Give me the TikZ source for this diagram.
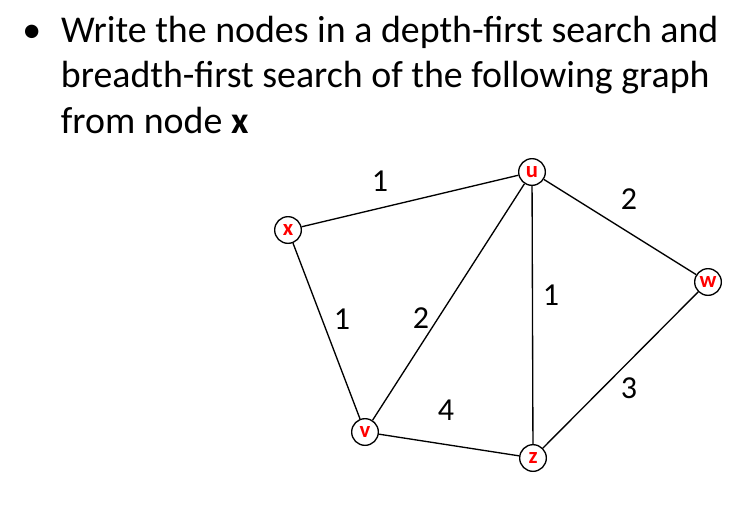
\documentclass[tikz,border=0pt]{standalone}
\usepackage{fontspec}
\setmainfont{Carlito}
\begin{document}
\begin{tikzpicture}[x=0.75pt,y=-0.75pt,
  vtx/.style={circle,draw,line width=1pt,fill=white,minimum size=20pt,inner sep=0pt,text=red,font=\fontsize{17}{17}\selectfont\bfseries},
  edge/.style={line width=1pt},
  wt/.style={font=\fontsize{24}{24}\selectfont}]
\useasboundingbox (0,0) rectangle (755,508);
\node[anchor=north west,align=left,font=\fontsize{28.4}{34}\selectfont,inner sep=0pt] (t) at (22,16)
 {\textbullet\hspace{15pt}Write the nodes in a depth-first search and\\
 \hspace{29pt}breadth-first search of the following graph\\
 \hspace{29pt}from node \textbf{x}};
\node[vtx] (x) at (288,230) {x};
\node[vtx] (u) at (532,172) {u};
\node[vtx] (w) at (708,282) {w};
\node[vtx] (v) at (365,432) {v};
\node[vtx] (z) at (533,458) {z};
\draw[edge] (x) -- (u);
\draw[edge] (u) -- (w);
\draw[edge] (x) -- (v);
\draw[edge] (v) -- (u);
\draw[edge] (u) -- (z);
\draw[edge] (v) -- (z);
\draw[edge] (z) -- (w);
\node[wt] (l1) at (380,181) {1};
\node[wt] (l2) at (629,199) {2};
\node[wt] (l3) at (342,319) {1};
\node[wt] (l4) at (421,318) {2};
\node[wt] (l5) at (551,295) {1};
\node[wt] (l6) at (446,410) {4};
\node[wt] (l7) at (629,388) {3};
\end{tikzpicture}
\end{document}
